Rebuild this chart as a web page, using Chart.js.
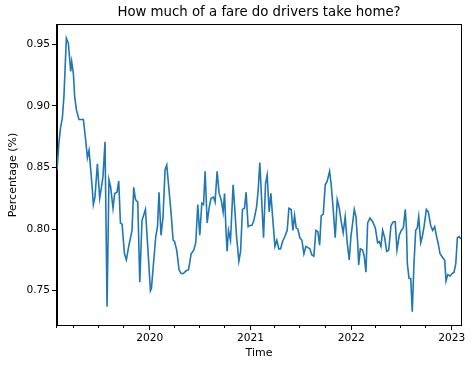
<!DOCTYPE html>
<html>
<head>
<meta charset="utf-8">
<script src="https://cdn.jsdelivr.net/npm/chart.js@4/dist/chart.umd.min.js"></script>
<style>
  html, body { margin: 0; padding: 0; background: #fff; }
  #fareChart { display: block; }
</style>
</head>
<body>
<canvas id="fareChart" width="474" height="368"></canvas>
<script>
// Weekly share of the fare kept by drivers (time in decimal years)
const time = [
    2019.079, 2019.098, 2019.115, 2019.132, 2019.148, 2019.172, 2019.192, 2019.215, 2019.225, 2019.242,
    2019.254, 2019.271, 2019.297, 2019.324, 2019.341, 2019.364, 2019.381, 2019.397, 2019.414, 2019.430,
    2019.440, 2019.456, 2019.480, 2019.503, 2019.520, 2019.536, 2019.556, 2019.576, 2019.595, 2019.612,
    2019.635, 2019.652, 2019.675, 2019.692, 2019.709, 2019.725, 2019.749, 2019.768, 2019.791, 2019.824,
    2019.841, 2019.858, 2019.881, 2019.901, 2019.923, 2019.957, 2019.980, 2020.007, 2020.017, 2020.040,
    2020.060, 2020.077, 2020.092, 2020.112, 2020.132, 2020.152, 2020.169, 2020.189, 2020.212, 2020.232,
    2020.246, 2020.268, 2020.291, 2020.311, 2020.335, 2020.358, 2020.385, 2020.411, 2020.437, 2020.457,
    2020.477, 2020.497, 2020.517, 2020.534, 2020.550, 2020.570, 2020.589, 2020.609, 2020.633, 2020.649,
    2020.669, 2020.689, 2020.709, 2020.729, 2020.743, 2020.758, 2020.768, 2020.782, 2020.802, 2020.828,
    2020.845, 2020.862, 2020.885, 2020.902, 2020.921, 2020.941, 2020.957, 2020.977, 2020.994, 2021.014,
    2021.034, 2021.061, 2021.077, 2021.093, 2021.110, 2021.130, 2021.150, 2021.166, 2021.186, 2021.203,
    2021.220, 2021.243, 2021.262, 2021.282, 2021.299, 2021.319, 2021.342, 2021.365, 2021.382, 2021.405,
    2021.421, 2021.438, 2021.454, 2021.471, 2021.491, 2021.511, 2021.531, 2021.551, 2021.571, 2021.590,
    2021.610, 2021.630, 2021.650, 2021.670, 2021.687, 2021.703, 2021.723, 2021.743, 2021.762, 2021.786,
    2021.802, 2021.822, 2021.842, 2021.862, 2021.882, 2021.902, 2021.921, 2021.941, 2021.961, 2021.981,
    2021.998, 2022.015, 2022.031, 2022.048, 2022.065, 2022.075, 2022.091, 2022.114, 2022.130, 2022.147,
    2022.164, 2022.187, 2022.214, 2022.240, 2022.263, 2022.279, 2022.296, 2022.313, 2022.333, 2022.353,
    2022.373, 2022.396, 2022.419, 2022.438, 2022.455, 2022.478, 2022.498, 2022.518, 2022.538, 2022.550,
    2022.558, 2022.575, 2022.592, 2022.607, 2022.624, 2022.641, 2022.657, 2022.671, 2022.691, 2022.707,
    2022.724, 2022.747, 2022.766, 2022.790, 2022.810, 2022.830, 2022.846, 2022.863, 2022.883, 2022.900,
    2022.916, 2022.929, 2022.942, 2022.959, 2022.982, 2023.002, 2023.022, 2023.039, 2023.055, 2023.072,
    2023.091
];
const share = [
    0.848, 0.870, 0.883, 0.890, 0.908, 0.955, 0.951, 0.928, 0.936, 0.926,
    0.908, 0.897, 0.889, 0.889, 0.889, 0.872, 0.858, 0.864, 0.848, 0.832,
    0.820, 0.826, 0.853, 0.825, 0.834, 0.843, 0.871, 0.737, 0.840, 0.834,
    0.817, 0.829, 0.830, 0.839, 0.805, 0.804, 0.780, 0.775, 0.786, 0.799,
    0.834, 0.824, 0.822, 0.757, 0.807, 0.816, 0.786, 0.750, 0.752, 0.775,
    0.794, 0.802, 0.830, 0.795, 0.810, 0.848, 0.852, 0.834, 0.813, 0.791,
    0.790, 0.783, 0.767, 0.764, 0.764, 0.766, 0.767, 0.780, 0.783, 0.789,
    0.820, 0.795, 0.821, 0.820, 0.847, 0.805, 0.817, 0.825, 0.826, 0.822,
    0.847, 0.829, 0.824, 0.814, 0.829, 0.797, 0.782, 0.799, 0.791, 0.836,
    0.816, 0.794, 0.774, 0.782, 0.816, 0.817, 0.830, 0.802, 0.803, 0.803,
    0.807, 0.818, 0.832, 0.854, 0.826, 0.793, 0.837, 0.844, 0.814, 0.829,
    0.810, 0.786, 0.791, 0.784, 0.784, 0.790, 0.794, 0.799, 0.817, 0.816,
    0.799, 0.811, 0.801, 0.800, 0.793, 0.791, 0.780, 0.786, 0.785, 0.784,
    0.779, 0.778, 0.799, 0.798, 0.787, 0.811, 0.812, 0.836, 0.839, 0.847,
    0.836, 0.816, 0.793, 0.824, 0.817, 0.806, 0.797, 0.810, 0.789, 0.775,
    0.794, 0.805, 0.816, 0.810, 0.789, 0.771, 0.784, 0.783, 0.778, 0.765,
    0.805, 0.809, 0.806, 0.801, 0.789, 0.790, 0.786, 0.799, 0.793, 0.782,
    0.783, 0.803, 0.806, 0.806, 0.783, 0.795, 0.799, 0.801, 0.816, 0.799,
    0.772, 0.760, 0.760, 0.733, 0.772, 0.799, 0.801, 0.810, 0.789, 0.794,
    0.802, 0.816, 0.814, 0.803, 0.799, 0.802, 0.795, 0.789, 0.780, 0.778,
    0.776, 0.775, 0.758, 0.763, 0.762, 0.764, 0.765, 0.772, 0.793, 0.794,
    0.792
];
const yearTicks = [2020, 2021, 2022, 2023];
const yTicks = [0.75, 0.80, 0.85, 0.90, 0.95];
const quarterStarts = [0.2466, 0.4959, 0.7479];

const X_MIN = 2019.079;
const X_MAX = 2023.091;
const Y_MIN = 0.7222;
const Y_MAX = 0.9657;

const fontFamily = "'DejaVu Sans', sans-serif";
const tickFont = { family: fontFamily, size: 10.6 };
const labelFont = { family: fontFamily, size: 11 };

// matplotlib-like frame, title and minor (quarterly) ticks
const framePlugin = {
    id: "frame",
    afterDraw(chart) {
        const { ctx, chartArea } = chart;
        const xScale = chart.scales.x;
        ctx.save();
        ctx.strokeStyle = "#000";
        ctx.lineWidth = 1;
        ctx.strokeRect(chartArea.left - 0.5, chartArea.top - 0.5,
            chartArea.right - chartArea.left + 1, chartArea.bottom - chartArea.top + 1);

        // minor ticks
        ctx.beginPath();
        const minor = [X_MIN];
        for (let y = 2019; y <= 2023; y++) {
            for (const q of quarterStarts) minor.push(y + q);
        }
        for (const v of minor) {
            if (v < X_MIN || v > X_MAX) continue;
            const px = Math.round(xScale.getPixelForValue(v)) - 0.5;
            ctx.moveTo(px, chartArea.bottom);
            ctx.lineTo(px, chartArea.bottom + 3);
        }
        ctx.stroke();

        // title
        ctx.fillStyle = "#000";
        ctx.font = "13.3px " + fontFamily;
        ctx.textAlign = "center";
        ctx.textBaseline = "middle";
        ctx.fillText("How much of a fare do drivers take home?",
            (chartArea.left + chartArea.right) / 2, 13);
        ctx.restore();
    },
};

function plotFareShare() {
    const data = {
        datasets: [
            {
                label: "Share",
                data: time.map((t, i) => ({ x: t, y: share[i] })),
                borderColor: "#1f77b4",
                borderWidth: 1.6,
                pointRadius: 0,
                tension: 0,
                fill: false,
            },
        ],
    };
    const config = {
        type: "line",
        data: data,
        options: {
            responsive: false,
            animation: false,
            devicePixelRatio: 1,
            layout: { padding: { top: 25, right: 13, left: 0, bottom: 0 } },
            plugins: {
                legend: { display: false },
                tooltip: { enabled: false },
            },
            scales: {
                x: {
                    type: "linear",
                    min: X_MIN,
                    max: X_MAX,
                    afterBuildTicks(scale) {
                        scale.ticks = yearTicks.map((v) => ({ value: v }));
                    },
                    afterFit(scale) {
                        scale.height = 43;
                    },
                    grid: {
                        drawOnChartArea: false,
                        drawTicks: true,
                        tickLength: 5,
                        tickColor: "#000",
                    },
                    border: { display: true, color: "#000" },
                    ticks: {
                        color: "#000",
                        font: tickFont,
                        padding: 2,
                        maxRotation: 0,
                        autoSkip: false,
                        callback: (v) => String(v),
                    },
                    title: {
                        display: true,
                        text: "Time",
                        color: "#000",
                        font: labelFont,
                        padding: { top: 0, bottom: 8 },
                    },
                },
                y: {
                    min: Y_MIN,
                    max: Y_MAX,
                    afterBuildTicks(scale) {
                        scale.ticks = yTicks.map((v) => ({ value: v }));
                    },
                    afterFit(scale) {
                        scale.width = 57;
                    },
                    grid: {
                        drawOnChartArea: false,
                        drawTicks: true,
                        tickLength: 5,
                        tickColor: "#000",
                    },
                    border: { display: true, color: "#000" },
                    ticks: {
                        color: "#000",
                        font: tickFont,
                        padding: 2,
                        callback: (v) => v.toFixed(2),
                    },
                    title: {
                        display: true,
                        text: "Percentage (%)",
                        color: "#000",
                        font: labelFont,
                        padding: { top: 7, bottom: 0 },
                    },
                },
            },
        },
        plugins: [framePlugin],
    };
    const ctx = document.getElementById("fareChart").getContext("2d");
    new Chart(ctx, config);
}

plotFareShare();
</script>
</body>
</html>
